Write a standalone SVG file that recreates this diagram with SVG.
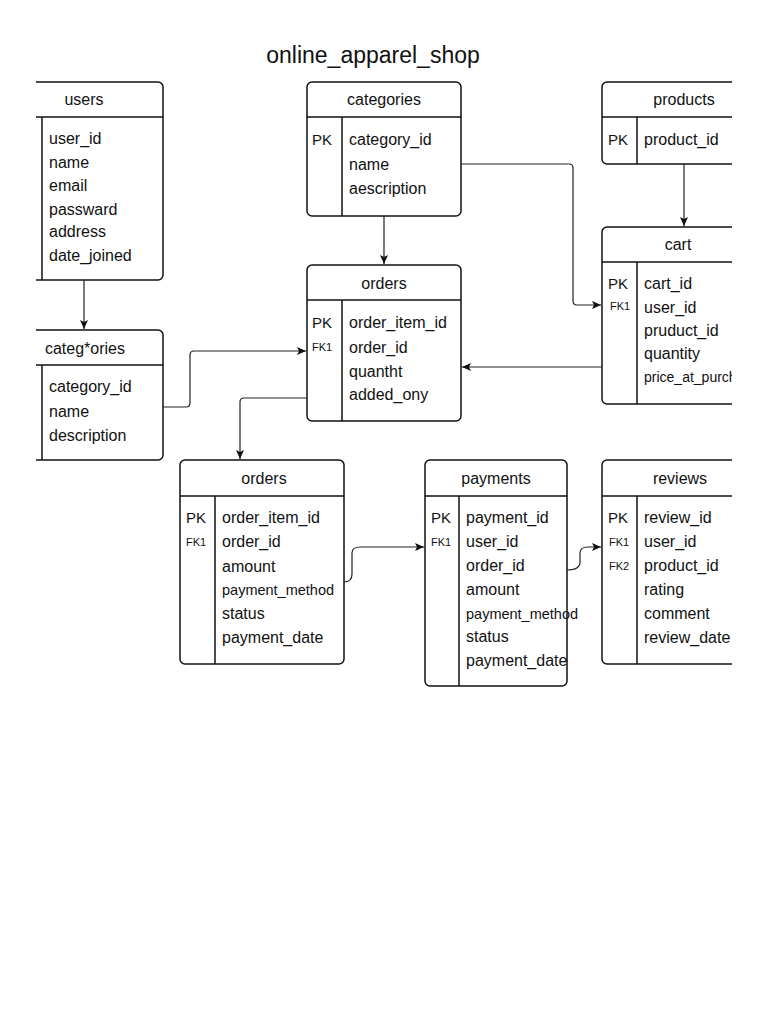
<svg xmlns="http://www.w3.org/2000/svg" width="768" height="1024" viewBox="0 0 768 1024">
<style>
text{font-family:"Liberation Sans",Arial,sans-serif;font-size:16px;fill:#111}
.t{text-anchor:middle}
.k{font-size:15px}
.f{font-size:11px}
.b{fill:#fff;stroke:#111;stroke-width:1.5}
.l{stroke:#111;stroke-width:1.5;fill:none}
.c{stroke:#222;stroke-width:1.2;fill:none;marker-end:url(#a)}
</style>
<defs>
<marker id="a" markerWidth="10" markerHeight="10" refX="9" refY="5" orient="auto" markerUnits="userSpaceOnUse"><path d="M0,1 L9,5 L0,9 L2,5 Z" fill="#111"/></marker>
<clipPath id="cp"><rect x="36" y="0" width="696" height="1024"/></clipPath>
</defs>
<rect width="768" height="1024" fill="#fff"/>
<text x="373" y="63" class="t" style="font-size:23px">online_apparel_shop</text>
<g clip-path="url(#cp)">
<g id="users"><rect class="b" x="26" y="82" width="137" height="198" rx="5"/><line class="l" x1="26" y1="117" x2="163" y2="117"/><line class="l" x1="42" y1="117" x2="42" y2="280"/>
<text x="84" y="105" class="t">users</text><text x="49" y="144">user_id</text><text x="49" y="168">name</text><text x="49" y="191">email</text><text x="49" y="215">passward</text><text x="49" y="237">address</text><text x="49" y="261">date_joined</text></g>
<g id="categories"><rect class="b" x="307" y="82" width="154" height="134" rx="5"/><line class="l" x1="307" y1="117" x2="461" y2="117"/><line class="l" x1="342" y1="117" x2="342" y2="216"/>
<text x="384" y="105" class="t">categories</text><text x="312" y="145" class="k">PK</text><text x="349" y="145">category_id</text><text x="349" y="170">name</text><text x="349" y="194">aescription</text></g>
<g id="orders1"><rect class="b" x="307" y="265" width="154" height="156" rx="5"/><line class="l" x1="307" y1="300" x2="461" y2="300"/><line class="l" x1="342" y1="300" x2="342" y2="421"/>
<text x="384" y="289" class="t">orders</text><text x="312" y="328" class="k">PK</text><text x="312" y="351" class="f">FK1</text><text x="349" y="328">order_item_id</text><text x="349" y="353">order_id</text><text x="349" y="377">quantht</text><text x="349" y="400">added_ony</text></g>
<g id="categories2"><rect class="b" x="26" y="330" width="137" height="130" rx="5"/><line class="l" x1="26" y1="365" x2="163" y2="365"/><line class="l" x1="42" y1="365" x2="42" y2="460"/>
<text x="85" y="354" class="t">categ*ories</text><text x="49" y="392">category_id</text><text x="49" y="417">name</text><text x="49" y="441">description</text></g>
<g id="products"><rect class="b" x="602" y="82" width="150" height="82" rx="5"/><line class="l" x1="602" y1="117" x2="752" y2="117"/><line class="l" x1="637" y1="117" x2="637" y2="164"/>
<text x="684" y="105" class="t">products</text><text x="608" y="145" class="k">PK</text><text x="644" y="145">product_id</text></g>
<g id="cart"><rect class="b" x="602" y="227" width="150" height="177" rx="5"/><line class="l" x1="602" y1="262" x2="752" y2="262"/><line class="l" x1="637" y1="262" x2="637" y2="404"/>
<text x="678" y="250" class="t">cart</text><text x="608" y="289" class="k">PK</text><text x="610" y="310" class="f">FK1</text><text x="644" y="289">cart_id</text><text x="644" y="313">user_id</text><text x="644" y="336">pruduct_id</text><text x="644" y="359">quantity</text><text x="644" y="382" style="font-size:14px">price_at_purchase</text></g>
<g id="orders2"><rect class="b" x="180" y="460" width="164" height="204" rx="5"/><line class="l" x1="180" y1="496" x2="344" y2="496"/><line class="l" x1="215" y1="496" x2="215" y2="664"/>
<text x="264" y="484" class="t">orders</text><text x="186" y="523" class="k">PK</text><text x="186" y="546" class="f">FK1</text><text x="222" y="523">order_item_id</text><text x="222" y="547">order_id</text><text x="222" y="572">amount</text><text x="222" y="595" style="font-size:14.5px">payment_method</text><text x="222" y="619">status</text><text x="222" y="643">payment_date</text></g>
<g id="payments"><rect class="b" x="425" y="460" width="142" height="226" rx="5"/><line class="l" x1="425" y1="496" x2="567" y2="496"/><line class="l" x1="459" y1="496" x2="459" y2="686"/>
<text x="496" y="484" class="t">payments</text><text x="431" y="523" class="k">PK</text><text x="431" y="546" class="f">FK1</text><text x="466" y="523">payment_id</text><text x="466" y="547">user_id</text><text x="466" y="571">order_id</text><text x="466" y="595">amount</text><text x="466" y="619" style="font-size:14.5px">payment_method</text><text x="466" y="642">status</text><text x="466" y="666">payment_date</text></g>
<g id="reviews"><rect class="b" x="602" y="460" width="150" height="204" rx="5"/><line class="l" x1="602" y1="496" x2="752" y2="496"/><line class="l" x1="637" y1="496" x2="637" y2="664"/>
<text x="680" y="484" class="t">reviews</text><text x="608" y="523" class="k">PK</text><text x="609" y="546" class="f">FK1</text><text x="609" y="570" class="f">FK2</text><text x="644" y="523">review_id</text><text x="644" y="547">user_id</text><text x="644" y="571">product_id</text><text x="644" y="595">rating</text><text x="644" y="619">comment</text><text x="644" y="643">review_date</text></g>
</g>
<g id="connectors">
<path class="c" d="M84,280 V329"/>
<path class="c" d="M384,216 V264"/>
<path class="c" d="M163,407 H186 Q190,407 190,403 V355 Q190,351 194,351 H306"/>
<path class="c" d="M461,164 H569 Q573,164 573,168 V301 Q573,305 577,305 H601"/>
<path class="c" d="M684,164 V226"/>
<path class="c" d="M602,367 H462"/>
<path class="c" d="M307,398 H244 Q240,398 240,402 V459"/>
<path class="c" d="M344,582 Q352,582 352,574 V553 Q352,547 360,547 H424"/>
<path class="c" d="M567,570 Q580,570 580,562 V553 Q580,547 588,547 H601"/>
</g>
</svg>
